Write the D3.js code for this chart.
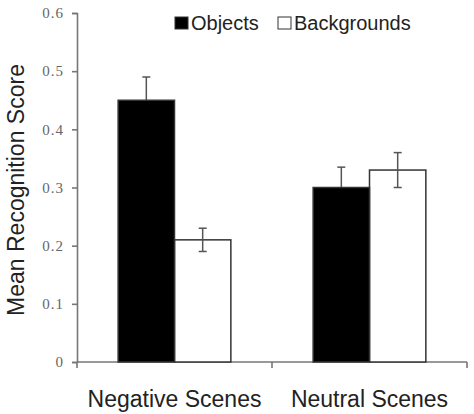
<!DOCTYPE html>
<html>
<head>
<meta charset="utf-8">
<script src="https://cdn.jsdelivr.net/npm/d3@7"></script>
<style>
  body { margin: 0; background: #fff; }
  svg { display: block; }
</style>
</head>
<body>
<svg id="chart" width="474" height="414"></svg>
<script>
// data
const scenes = ["Negative Scenes", "Neutral Scenes"]
const series = ["Objects", "Backgrounds"]
const objects = [0.45, 0.30]
const objectsErr = [0.04, 0.035]
const backgrounds = [0.21, 0.33]
const backgroundsErr = [0.02, 0.03]
const yTicks = [0, 0.1, 0.2, 0.3, 0.4, 0.5, 0.6]

const rows = scenes.map((s, i) => ({
  scene: s,
  values: [
    { key: "Objects", value: objects[i], err: objectsErr[i] },
    { key: "Backgrounds", value: backgrounds[i], err: backgroundsErr[i] }
  ]
}))

const margin = { top: 13, right: 7, bottom: 52, left: 77 }
const width = 474 - margin.left - margin.right
const height = 414 - margin.top - margin.bottom

const svg = d3.select("#chart")
const g = svg.append("g").attr("transform", `translate(${margin.left},${margin.top})`)

const x0 = d3.scaleBand().domain(scenes).range([0, width]).padding(0)
const x1 = d3.scaleBand().domain(series).range([0, x0.bandwidth()])
  .paddingInner(0).paddingOuter(0.73)
const y = d3.scaleLinear().domain([0, 0.6]).range([height, 0])

const fill = { Objects: "#000", Backgrounds: "#fff" }

// y axis
const yAxis = g.append("g")
  .call(d3.axisLeft(y).tickValues(yTicks).tickSize(5).tickPadding(8)
    .tickFormat(d => d === 0 ? "0" : d3.format(".1f")(d)))
yAxis.selectAll("path, line").attr("stroke", "#777").attr("stroke-width", 1.6)
yAxis.selectAll("text")
  .attr("font-family", "Liberation Serif, serif")
  .attr("font-size", 15)
  .attr("letter-spacing", 1)
  .attr("fill", "#666")

// x axis (ticks at the band edges, labels centered)
const xAxis = g.append("g").attr("transform", `translate(0,${height})`)
xAxis.append("line")
  .attr("x1", 0).attr("x2", width)
  .attr("stroke", "#777").attr("stroke-width", 1.6)
xAxis.selectAll("line.tick")
  .data([0, ...scenes.map(s => x0(s) + x0.bandwidth())])
  .join("line")
  .attr("class", "tick")
  .attr("x1", d => d).attr("x2", d => d)
  .attr("y1", 0).attr("y2", 6)
  .attr("stroke", "#777").attr("stroke-width", 1.6)
xAxis.selectAll("text")
  .data(scenes)
  .join("text")
  .attr("x", d => x0(d) + x0.bandwidth() / 2)
  .attr("y", 45)
  .attr("text-anchor", "middle")
  .attr("font-family", "Liberation Sans, Arial, sans-serif")
  .attr("font-size", 23)
  .attr("fill", "#222")
  .text(d => d)

// y title
svg.append("text")
  .attr("transform", `translate(24,190) rotate(-90)`)
  .attr("text-anchor", "middle")
  .attr("font-family", "Liberation Sans, Arial, sans-serif")
  .attr("font-size", 23)
  .attr("fill", "#222")
  .text("Mean Recognition Score")

const groups = g.selectAll("g.scene")
  .data(rows)
  .join("g")
  .attr("class", "scene")
  .attr("transform", d => `translate(${x0(d.scene)},0)`)

const drawBars = (key) => groups.selectAll(`rect.${key}`)
  .data(d => d.values.filter(v => v.key === key))
  .join("rect")
  .attr("class", key)
  .attr("x", d => x1(d.key))
  .attr("y", d => y(d.value))
  .attr("width", x1.bandwidth())
  .attr("height", d => height - y(d.value))
  .attr("fill", fill[key])
  .attr("stroke", "#333")
  .attr("stroke-width", 1.5)

drawBars("Backgrounds")

// error bars
const err = groups.selectAll("g.err")
  .data(d => d.values)
  .join("g")
  .attr("class", "err")
  .attr("transform", d => `translate(${x1(d.key) + x1.bandwidth() / 2},0)`)
  .attr("stroke", "#555")
  .attr("stroke-width", 1.5)
err.append("line")
  .attr("y1", d => y(d.value - d.err)).attr("y2", d => y(d.value + d.err))
err.selectAll("line.cap")
  .data(d => [d.value - d.err, d.value + d.err])
  .join("line")
  .attr("class", "cap")
  .attr("x1", -4).attr("x2", 4)
  .attr("y1", d => y(d)).attr("y2", d => y(d))

drawBars("Objects")

// legend
const legend = svg.append("g").attr("transform", "translate(175,17)")
const items = legend.selectAll("g")
  .data(series)
  .join("g")
  .attr("transform", (d, i) => `translate(${i * 103},0)`)
items.append("rect")
  .attr("width", 13).attr("height", 12)
  .attr("fill", d => fill[d])
  .attr("stroke", "#333").attr("stroke-width", 1)
items.append("text")
  .attr("x", 16).attr("y", 13)
  .attr("font-family", "Liberation Sans, Arial, sans-serif")
  .attr("font-size", 20)
  .attr("fill", "#222")
  .text(d => d)
</script>
</body>
</html>
